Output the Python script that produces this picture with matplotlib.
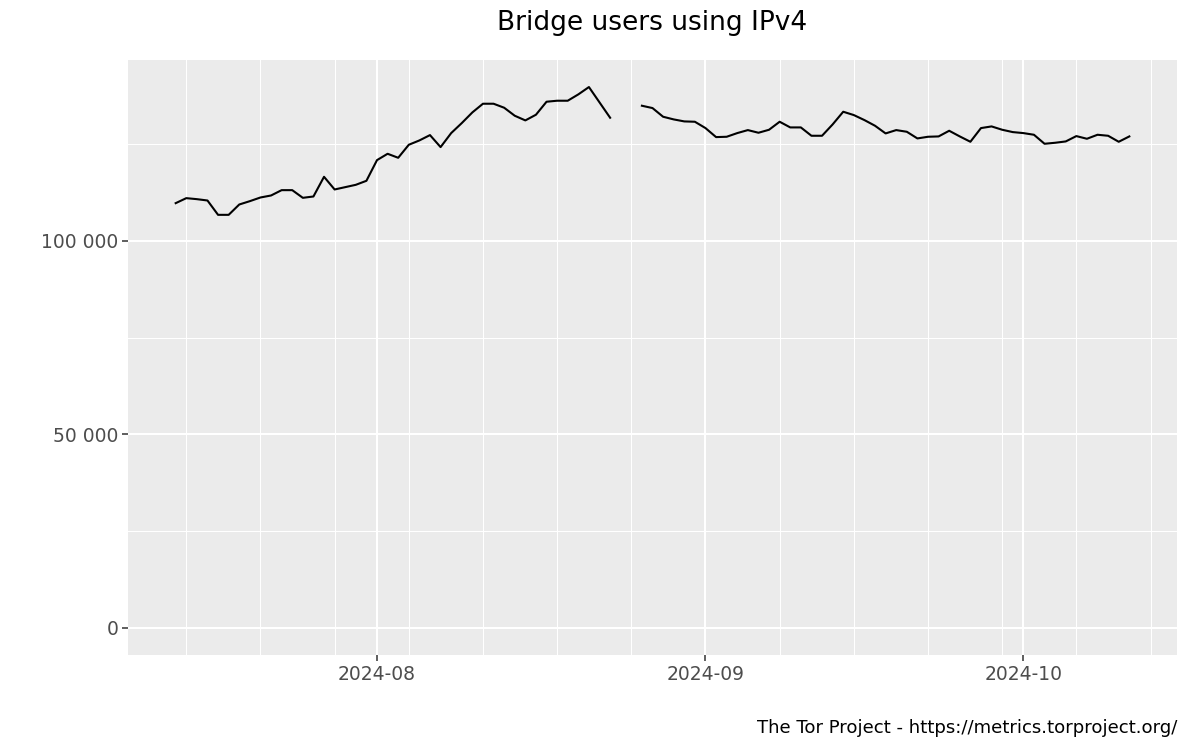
import numpy as np
import pandas as pd
import matplotlib
matplotlib.use("Agg")
import matplotlib.pyplot as plt
import matplotlib.dates as mdates
from matplotlib.ticker import FuncFormatter, FixedLocator

# daily bridge users over IPv4
dates = pd.date_range("2024-07-13", "2024-10-11", freq="D")
users = [
    109741, 111034, 110775, 110430, 106724, 106724, 109396, 110258, 111206, 111723,
    113102, 113102, 111120, 111465, 116550, 113275, 113878, 114482, 115516, 120860,
    122498, 121464, 124826, 125946, 127325, 124222, 127843, 130429, 133187, 135428,
    135428, 134394, 132325, 131118, 132584, 135945, 136204, 136204, 137842, 139738,
    135773, 131808,
    np.nan, np.nan,  # 2024-08-24, 2024-08-25 missing
    134911, 134308, 132066, 131377, 130860, 130773, 129136, 126808, 126894, 127843,
    128618, 127929, 128705, 130773, 129308, 129308, 127153, 127153, 130084, 133359,
    132497, 131204, 129739, 127756, 128618, 128187, 126463, 126894, 126981, 128446,
    126981, 125601, 129136, 129567, 128705, 128101, 127843, 127412, 125084, 125343,
    125688, 127067, 126377, 127412, 127153, 125601, 126981,
]
y_ticks = [0, 50000, 100000]
y_minor = [25000, 75000, 125000]
title = "Bridge users using IPv4"
caption = "The Tor Project - https://metrics.torproject.org/"

users = np.array(users, dtype=float)

fig = plt.figure(figsize=(12, 7.5), dpi=100)
ax = fig.add_axes([128 / 1200, 1 - 655 / 750, (1177 - 128) / 1200, (655 - 60) / 750])
ax.set_facecolor("#EBEBEB")
for s in ax.spines.values():
    s.set_visible(False)

ax.plot(dates, users, color="black", lw=1.5, zorder=3)

# ggplot-like 5% expansion
span = dates[-1] - dates[0]
ax.set_xlim(dates[0] - span * 0.05, dates[-1] + span * 0.05)
ymax = np.nanmax(users)
ax.set_ylim(-0.05 * ymax, 1.05 * ymax)

ax.xaxis.set_major_locator(mdates.MonthLocator())
ax.xaxis.set_major_formatter(mdates.DateFormatter("%Y-%m"))
ax.xaxis.set_minor_locator(mdates.WeekdayLocator(byweekday=mdates.SU))
ax.yaxis.set_major_locator(FixedLocator(y_ticks))
ax.yaxis.set_minor_locator(FixedLocator(y_minor))
ax.yaxis.set_major_formatter(FuncFormatter(lambda v, p: f"{int(v):,}".replace(",", " ")))

ax.grid(which="major", color="white", lw=1.5)
ax.grid(which="minor", color="white", lw=0.75)
ax.set_axisbelow(True)

ax.tick_params(which="major", length=4, width=1.1, color="#333333",
               labelcolor="#4D4D4D", labelsize=13.5, pad=3)
ax.tick_params(which="minor", length=0)

fig.text((128 + 1177) / 2 / 1200, 1 - 23 / 750, title, ha="center", va="center",
         fontsize=19, color="black")
fig.text(1177 / 1200, 1 - 728 / 750, caption, ha="right", va="center",
         fontsize=13.1, color="black")

fig.savefig("out.png", dpi=100)
